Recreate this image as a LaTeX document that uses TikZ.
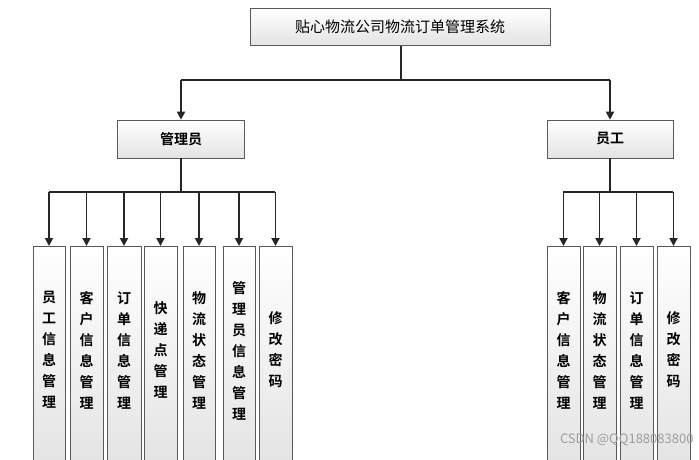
\documentclass[tikz,border=0pt]{standalone}
\usepackage{fontspec}
\setmainfont{Noto Sans CJK SC}[BoldFont={Noto Sans CJK SC Bold}]
\usetikzlibrary{arrows.meta}
\begin{document}
\begin{tikzpicture}[x=1pt,y=-1pt,
  bx/.style={draw=gray!70!black,line width=0.6pt,top color=white,bottom color=gray!22,inner sep=0pt},
  ar/.style={draw=gray!30!black,line width=1.8pt,-{Triangle[length=8pt,width=8pt]}},
  ln/.style={draw=gray!30!black,line width=1.8pt},
  vt/.style={font=\bfseries\fontsize{14}{21}\selectfont,align=center,anchor=north}]
\useasboundingbox (0,0) rectangle (699,459);
\node[bx,minimum width=300,minimum height=37,font=\fontsize{15}{18}\selectfont] (top) at (400,27) {贴心物流公司物流订单管理系统};
\node[bx,minimum width=127,minimum height=38,font=\bfseries\fontsize{14}{16}\selectfont] (adm) at (181,139) {管理员};
\node[bx,minimum width=126,minimum height=38,font=\bfseries\fontsize{14}{16}\selectfont] (emp) at (610,139) {员工};
\coordinate (j1) at (401,80);
\draw[ln] (top.south -| j1) -- (j1);
\draw[ln] (181,80) -- (610,80);
\draw[ar] (181,80) -- (adm.north);
\draw[ar] (610,80) -- (emp.north);
\draw[ln] (adm.south) -- (181,192);
\draw[ln] (49,192) -- (275,192);
\draw[ln] (emp.south) -- (610,192);
\draw[ln] (563,192) -- (673,192);
\foreach \l/\r/\n in {33/65/a1, 70/103/a2, 107/141/a3, 144/177/a4, 183/215/a5, 223/255/a6, 259/292/a7, 547/580/b1, 583/616/b2, 620/653/b3, 657/690/b4}{
  \path[bx] (\l,246) rectangle (\r,470);
  \coordinate (\n) at ({(\l+\r)/2},246);
  \draw[ar] ({(\l+\r)/2},192) -- (\n);
}
\foreach \n/\t/\y in {a1/员\\工\\信\\息\\管\\理/288, a2/客\\户\\信\\息\\管\\理/288, a3/订\\单\\信\\息\\管\\理/288, a4/快\\递\\点\\管\\理/298, a5/物\\流\\状\\态\\管\\理/288, a6/管\\理\\员\\信\\息\\管\\理/278, a7/修\\改\\密\\码/308, b1/客\\户\\信\\息\\管\\理/288, b2/物\\流\\状\\态\\管\\理/288, b3/订\\单\\信\\息\\管\\理/288, b4/修\\改\\密\\码/308}{
  \node[vt] (t\n) at (\n |- 0,\y) {\t};
}
\node[font=\fontsize{13}{15}\selectfont,text=gray!75,anchor=east] (wm) at (697,440) {CSDN @QQ188083800};
\end{tikzpicture}
\end{document}
